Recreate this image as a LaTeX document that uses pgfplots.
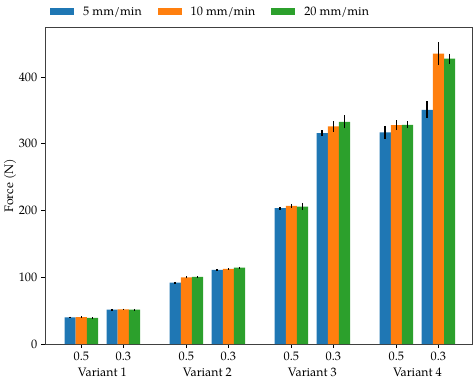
\documentclass[border=0pt]{standalone}
\usepackage{fontspec}
\setmainfont{TeX Gyre Pagella}
\usepackage{pgfplots}
\pgfplotsset{compat=1.18}
\usepackage{pgfplotstable}
\definecolor{cblue}{HTML}{1F77B4}
\definecolor{corange}{HTML}{FF7F0E}
\definecolor{cgreen}{HTML}{2CA02C}
\pgfplotstableread{
x   y      e
0   40.0   1
1   51.5   1
2.5 92.0   1
3.5 111.0  1
5   203.5  2
6   316.0  4.5
7.5 317.0  10
8.5 351.0  12.5
}\tblue
\pgfplotstableread{
x   y      e
0   40.4   1
1   52.0   1
2.5 100.0  1.5
3.5 112.5  1
5   207.0  3
6   326.0  8
7.5 328.0  7.5
8.5 435.0  17
}\torange
\pgfplotstableread{
x   y      e
0   39.0   1
1   51.5   1
2.5 100.5  1
3.5 114.5  1
5   206.0  5.5
6   333.0  10
7.5 328.5  5
8.5 427.5  7.5
}\tgreen
\begin{document}
\fontsize{12.3pt}{14.5pt}\selectfont
\begin{tikzpicture}
\useasboundingbox (-45pt,-40pt) rectangle (429pt,344pt);
\begin{axis}[
  at={(0pt,0pt)}, anchor=south west,
  scale only axis, width=427pt, height=317pt,
  xmin=-0.865, xmax=9.3, ymin=0, ymax=475,
  ybar, bar width=0.2667, 
  xtick={0,1,2.5,3.5,5,6,7.5,8.5},
  xticklabels={0.5,0.3,0.5,0.3,0.5,0.3,0.5,0.3},
  extra x ticks={0.5,3,5.5,8},
  extra x tick labels={Variant 1,Variant 2,Variant 3,Variant 4},
  extra x tick style={major tick length=0pt, xticklabel style={yshift=-20pt}},
  ytick={0,100,200,300,400},
  tick align=outside, major tick length=3.5pt,
  tick style={black, line width=0.8pt},
  xtick pos=bottom, ytick pos=left,
  axis line style={black!75, line width=0.8pt},
  /pgf/number format/assume math mode=true,
  ticklabel style={font=\fontsize{12.3pt}{14pt}\selectfont},
  ylabel={Force (N)},
  ylabel style={at={(rel axis cs:-0.082,0.5)}, anchor=center, font=\fontsize{12.3pt}{14pt}\selectfont},
  legend columns=3,
  legend style={at={(rel axis cs:0,1)}, anchor=west, xshift=5pt, yshift=15pt, draw=none, fill=none,
    inner sep=0pt, column sep=0pt,
    nodes={inner sep=0pt},
    font=\fontsize{12.3pt}{14pt}\selectfont,
    /tikz/every even column/.append style={column sep=16pt}},
  legend image code/.code={\fill[#1, draw=none] (0pt,-3.5pt) rectangle (24pt,3.5pt); \path (33pt,0pt);},
  error bars/y dir=both, error bars/y explicit,
  error bars/error mark=none,
  error bars/error bar style={black, line width=1.6pt},
]
\addplot[fill=cblue, draw=none, bar shift=-0.2667] table[x=x, y=y, y error=e] {\tblue};
\addplot[fill=corange, draw=none, bar shift=0] table[x=x, y=y, y error=e] {\torange};
\addplot[fill=cgreen, draw=none, bar shift=0.2667] table[x=x, y=y, y error=e] {\tgreen};
\legend{5 mm/min, 10 mm/min, 20 mm/min}
\end{axis}
\end{tikzpicture}
\end{document}
